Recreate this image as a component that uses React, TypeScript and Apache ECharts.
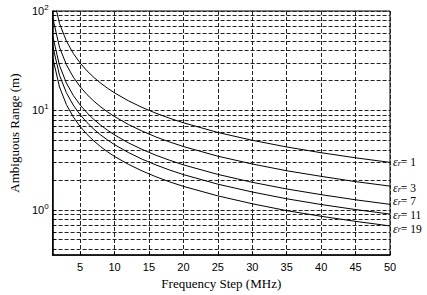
import React, { useEffect, useRef } from "react";
import * as echarts from "echarts";

const freqSteps = [1, 2, 3, 4, 5, 6, 7, 8, 9, 10, 12, 14, 16, 18, 20, 25, 30, 35, 40, 45, 50];
const er1 = [150, 75, 50, 37.5, 30, 25, 21.43, 18.75, 16.67, 15, 12.5, 10.71, 9.375, 8.333, 7.5, 6, 5, 4.286, 3.75, 3.333, 3];
const er3 = [86.6, 43.3, 28.87, 21.65, 17.32, 14.43, 12.37, 10.83, 9.62, 8.66, 7.22, 6.19, 5.41, 4.81, 4.33, 3.46, 2.89, 2.47, 2.17, 1.92, 1.73];
const er7 = [56.7, 28.35, 18.9, 14.17, 11.34, 9.45, 8.1, 7.09, 6.3, 5.67, 4.72, 4.05, 3.54, 3.15, 2.83, 2.27, 1.89, 1.62, 1.42, 1.26, 1.134];
const er11 = [45.2, 22.6, 15.08, 11.31, 9.05, 7.54, 6.46, 5.65, 5.03, 4.52, 3.77, 3.23, 2.83, 2.51, 2.26, 1.81, 1.51, 1.29, 1.13, 1.005, 0.905];
const er19 = [34.4, 17.2, 11.47, 8.6, 6.88, 5.74, 4.92, 4.3, 3.82, 3.44, 2.87, 2.46, 2.15, 1.91, 1.72, 1.38, 1.15, 0.98, 0.86, 0.765, 0.688];
const seriesLabels = ["1", "3", "7", "11", "19"];
const seriesValues = [er1, er3, er7, er11, er19];
const labelShift = [0, 2, -3, 1, 3];

const xTicks = [5, 10, 15, 20, 25, 30, 35, 40, 45, 50];
const yLabelTicks = [1, 10, 100];
const yGridTicks = [0.4, 0.5, 0.6, 0.7, 0.8, 0.9, 1, 2, 3, 4, 5, 6, 7, 8, 9, 10, 20, 30, 40, 50, 60, 70, 80, 90, 100];

export default function App() {
  const ref = useRef<HTMLDivElement>(null);
  useEffect(() => {
    if (!ref.current) return;
    const chart = echarts.init(ref.current, null, { renderer: "svg" });
    const sans = "Liberation Sans";
    const serif = "Liberation Serif";
    const grid = { type: [4, 2], color: "#222", width: 1 };
    chart.setOption({
      animation: false,
      backgroundColor: "#fff",
      grid: { left: 44.5, right: 37, top: 11, bottom: 37, show: true, borderColor: "#000", borderWidth: 1 },
      xAxis: {
        type: "value",
        min: 1,
        max: 50,
        name: "Frequency Step (MHz)",
        nameLocation: "middle",
        nameGap: 18,
        nameTextStyle: { fontFamily: serif, fontSize: 13, color: "#000" },
        axisLine: { show: true, lineStyle: { color: "#000", width: 1.5 } },
        axisTick: { show: true, inside: true, length: 3, customValues: xTicks, lineStyle: { color: "#000" } },
        axisLabel: { customValues: xTicks, fontFamily: sans, fontSize: 11, color: "#000", margin: 6 },
        splitLine: { show: true, lineStyle: grid },
      },
      yAxis: {
        type: "log",
        min: 0.35,
        max: 100,
        name: "Ambiguous Range (m)",
        nameLocation: "middle",
        nameGap: 26,
        nameTextStyle: { fontFamily: serif, fontSize: 13, color: "#000" },
        axisLine: { show: true, lineStyle: { color: "#000", width: 1.5 } },
        axisTick: { show: true, inside: true, length: 3, customValues: yGridTicks, lineStyle: { color: "#000" } },
        axisLabel: {
          customValues: yLabelTicks,
          margin: 4,
          formatter: (v: number) => `{b|10}{p|${Math.round(Math.log10(v))}}`,
          rich: {
            b: { fontFamily: sans, fontSize: 11, color: "#000" },
            p: { fontFamily: sans, fontSize: 8, color: "#000", verticalAlign: "top", padding: [0, 0, 7, 0] },
          },
        },
        splitLine: { show: true, lineStyle: grid },
      },
      series: seriesValues.map((vals, i) => ({
        type: "line",
        name: "εr = " + seriesLabels[i],
        data: freqSteps.map((f, j) => [f, vals[j]]),
        showSymbol: false,
        symbol: "none",
        lineStyle: { color: "#000", width: 1 },
        clip: true,
        endLabel: {
          show: true,
          distance: 3,
          offset: [0, labelShift[i]],
          formatter: () => `{e|ε}{s|r}{n|= ${seriesLabels[i]}}`,
          rich: {
            e: { fontFamily: serif, fontSize: 12, fontStyle: "italic", color: "#000", lineHeight: 10 },
            s: { fontFamily: serif, fontSize: 8, fontStyle: "italic", color: "#000", lineHeight: 10, verticalAlign: "bottom" },
            n: { fontFamily: serif, fontSize: 11.5, color: "#000", lineHeight: 10 },
          },
        },
      })),
    });
    return () => chart.dispose();
  }, []);
  return <div ref={ref} style={{ width: 427, height: 295, position: "absolute", left: 0, top: 0 }} />;
}
